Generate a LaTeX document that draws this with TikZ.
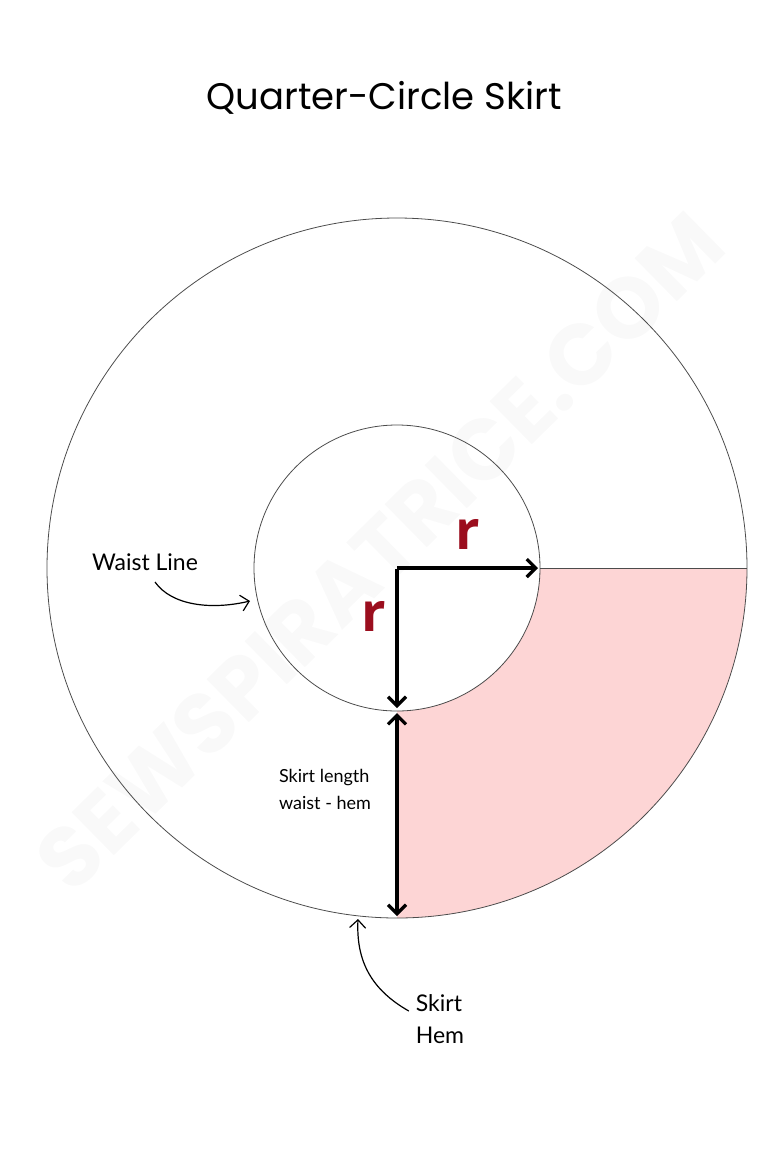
\documentclass[tikz,border=0pt]{standalone}
\usepackage{fontspec}
\setmainfont{Lato}
\newfontfamily\titlefont{Poppins}
\newfontfamily\radfont{Open Sans}
\usetikzlibrary{arrows.meta}
\definecolor{skirtpink}{HTML}{FDD5D5}
\definecolor{radred}{HTML}{9B0E1E}
\tikzset{
  outline/.style={draw=black!70, line width=0.4pt},
  radarrow/.style={line width=1.6pt, -{Straight Barb[length=4.5pt,width=9pt]}},
  pointer/.style={line width=0.6pt, -{Straight Barb[length=4pt,width=8pt]}},
  labeltext/.style={font=\fontsize{11.5}{14}\selectfont, align=left},
  radlabel/.style={text=radred, font=\radfont\bfseries\fontsize{27}{30}\selectfont}
}
\begin{document}
\begin{tikzpicture}[x=0.5pt,y=-0.5pt]
  \useasboundingbox (0,0) rectangle (768,1152);
  % watermark
  \node[rotate=44.5, text=black!2.5, font=\titlefont\bfseries\fontsize{43}{48}\selectfont] (mark) at (380,552) {SEWSPIRATRICE.COM};
  \node[font=\titlefont\fontsize{18.5}{22}\selectfont] (title) at (384,98) {Quarter-Circle Skirt};
  % points on the circles
  \coordinate (centre) at (397,568);
  \coordinate (waistE) at (540,568);
  \coordinate (waistS) at (397,711);
  \coordinate (hemE) at (747,568);
  \coordinate (hemS) at (397,918);
  % skirt piece
  \fill[skirtpink] (waistE) -- (hemE) arc[start angle=0,end angle=90,radius=350] -- (waistS) arc[start angle=90,end angle=0,radius=143] -- cycle;
  \draw[outline] (centre) circle[radius=350];
  \draw[outline] (centre) circle[radius=143];
  \draw[outline] (waistE) -- (hemE);
  % radii and length
  \draw[radarrow] (centre) -- ([xshift=-1pt]waistE);
  \draw[radarrow] ([yshift=-0.5pt]centre) -- ([yshift=1.5pt]waistS);
  \draw[radarrow, {Straight Barb[length=4.5pt,width=9pt]}-{Straight Barb[length=4.5pt,width=9pt]}] ([yshift=-1pt]waistS) -- ([yshift=1pt]hemS);
  \node[radlabel] (rE) at (468,534) {r};
  \node[radlabel] (rS) at (374,616) {r};
  % labels
  \node[labeltext] (waistlbl) at (145,562) {Waist Line};
  \node[labeltext, font=\fontsize{9}{13.5}\selectfont, align=left] (lenlbl) at (325,789) {Skirt length\\waist - hem};
  \node[labeltext, align=left] (hemlbl) at (440,1019) {Skirt\\[2pt]Hem};
  \coordinate (waistW) at (250,601);
  \coordinate (hemarc) at (358,919);
  \draw[pointer] (155,582) .. controls (172,606) and (212,610) .. (waistW);
  \draw[pointer] (hemlbl.west |- 0,1011) .. controls (372,990) and (356,962) .. (hemarc);
\end{tikzpicture}
\end{document}
